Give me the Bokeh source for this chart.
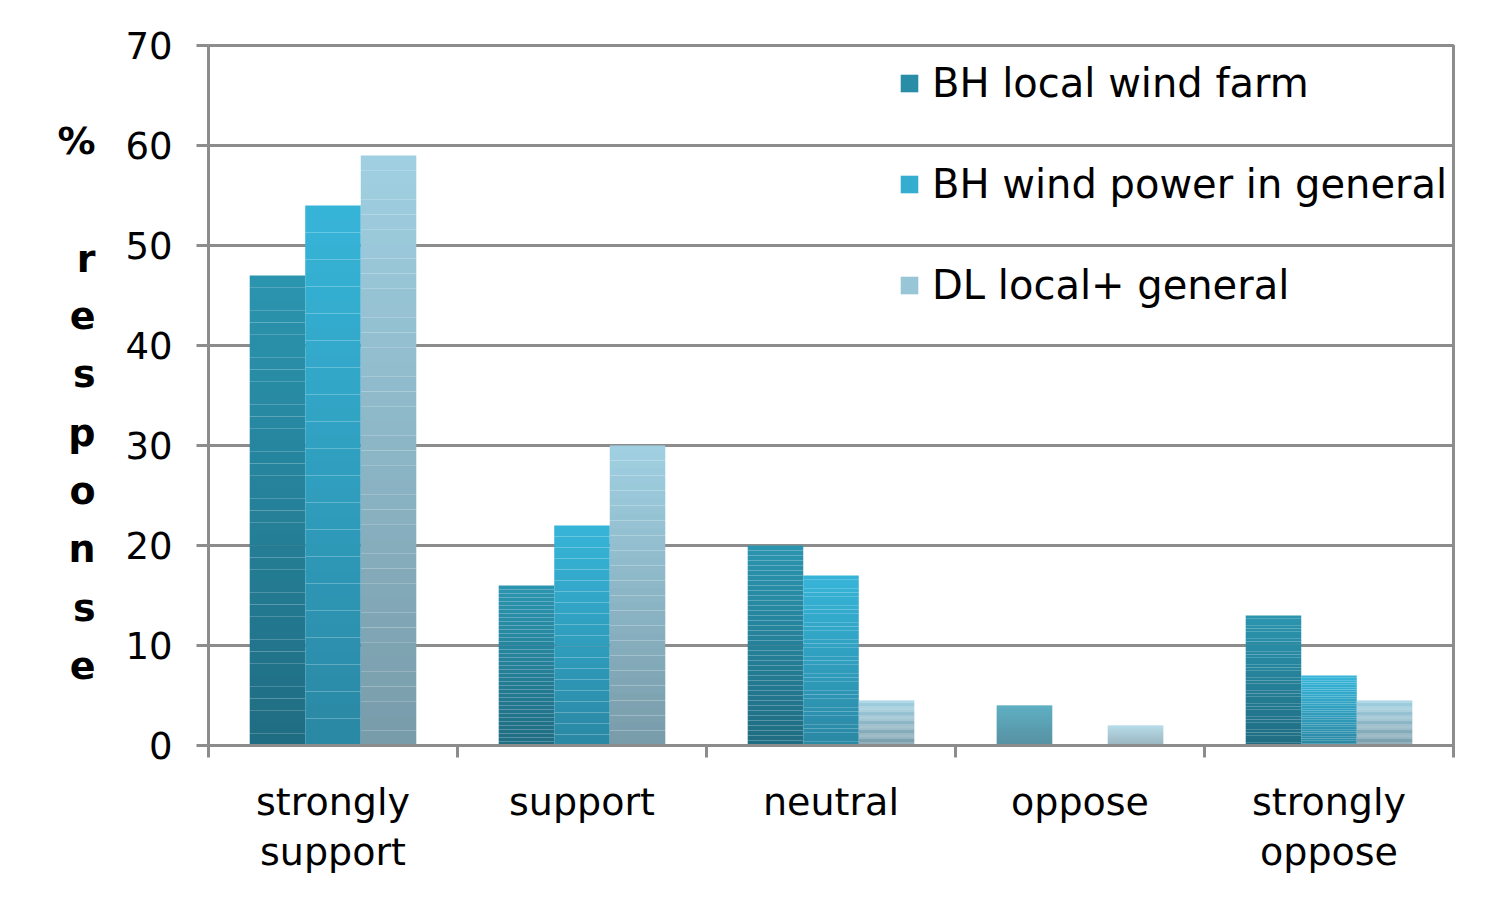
import numpy as np
from bokeh.plotting import figure
from bokeh.models import FixedTicker, LinearAxis, Range1d, Legend, LegendItem
from bokeh.embed import file_html
from bokeh.resources import INLINE

# ---- data ----
categories = ["strongly\nsupport", "support", "neutral", "oppose", "strongly\noppose"]
series_names = ["BH local wind farm", "BH wind power in general", "DL local+ general"]
bh_local = [47, 16, 20, 4, 13]
bh_general = [54, 22, 17, 0, 7]
dl_local_general = [59, 30, 4.5, 2, 4.5]
y_ticks = [0, 10, 20, 30, 40, 50, 60, 70]
y_title = "% response"

series_values = [bh_local, bh_general, dl_local_general]
top_colors = ["#2B94AF", "#36B5D9", "#A0D0E2"]
bottom_colors = ["#1F6D82", "#2A88A4", "#789BA9"]

FONT = "DejaVu Sans"
GRAY = "#8C8C8C"

p = figure(width=1484, height=884, output_backend="svg", toolbar_location=None,
           x_range=Range1d(0, len(categories)), y_range=Range1d(0, 70),
           min_border_left=208, min_border_right=31, min_border_top=45, min_border_bottom=139)
p.background_fill_color = "white"
p.border_fill_color = "white"
p.outline_line_color = GRAY
p.outline_line_width = 3


def hex2rgb(h):
    h = h.lstrip("#")
    return np.array([int(h[i:i + 2], 16) for i in (0, 2, 4)], dtype=float)


def rgb2hex(c):
    return "#%02x%02x%02x" % tuple(int(round(v)) for v in c)


N = 40
bar_w = 0.223
offsets = [-bar_w, 0.0, bar_w]
renderers = []
for s, vals in enumerate(series_values):
    cb, ct = hex2rgb(bottom_colors[s]), hex2rgb(top_colors[s])
    xs, bots, tops, cols = [], [], [], []
    for i, v in enumerate(vals):
        for k in range(N):
            t = (k + 0.5) / N
            xs.append(i + 0.5 + offsets[s])
            bots.append(v * k / N)
            tops.append(v * (k + 1) / N)
            cols.append(rgb2hex(cb + (ct - cb) * t))
    r = p.vbar(x=xs, bottom=bots, top=tops, width=bar_w, fill_color=cols, line_color=None)
    renderers.append(r)

items = [LegendItem(label=name, renderers=[renderers[s]], index=int(N * 0.8))
         for s, name in enumerate(series_names)]
legend = Legend(items=items, location=(690, 437), orientation="vertical",
                label_text_font=FONT, label_text_font_size="40px", label_text_color="black",
                glyph_width=22, glyph_height=22, label_standoff=12, spacing=55, label_height=40,
                padding=0, margin=0, border_line_color=None, background_fill_alpha=0)
p.add_layout(legend, "center")

# axes
p.yaxis.ticker = FixedTicker(ticks=y_ticks)
p.yaxis.axis_line_color = GRAY
p.yaxis.axis_line_width = 3
p.yaxis.major_tick_line_color = GRAY
p.yaxis.major_tick_line_width = 3
p.yaxis.major_tick_out = 12
p.yaxis.major_tick_in = 0
p.yaxis.minor_tick_line_color = None
p.yaxis.major_label_text_font = FONT
p.yaxis.major_label_text_font_size = "37px"
p.yaxis.major_label_text_color = "black"
p.yaxis.major_label_standoff = 24

p.xaxis.ticker = FixedTicker(ticks=[i + 0.5 for i in range(len(categories))],
                             minor_ticks=list(range(len(categories) + 1)))
p.xaxis.major_label_overrides = {i + 0.5: c for i, c in enumerate(categories)}
p.xaxis.axis_line_color = GRAY
p.xaxis.axis_line_width = 3
p.xaxis.major_tick_line_color = None
p.xaxis.major_tick_out = 0
p.xaxis.major_tick_in = 0
p.xaxis.minor_tick_line_color = GRAY
p.xaxis.minor_tick_line_width = 3
p.xaxis.minor_tick_out = 12
p.xaxis.minor_tick_in = 0
p.xaxis.major_label_text_font = FONT
p.xaxis.major_label_text_font_size = "38px"
p.xaxis.major_label_text_color = "black"
p.xaxis.major_label_text_line_height = 1.15
p.xaxis.major_label_standoff = 22

p.xgrid.grid_line_color = None
p.ygrid.ticker = FixedTicker(ticks=y_ticks)
p.ygrid.grid_line_color = GRAY
p.ygrid.grid_line_width = 3

# vertical stacked y-axis title, drawn as a second (outer) left axis of single letters
letter_pos = [60.5, None, 48.7, 43.0, 37.2, 31.3, 25.5, 19.7, 13.8, 8.0]
ticks, overrides = [], {}
for ch, pos in zip(y_title, letter_pos):
    if ch.strip() and pos is not None:
        ticks.append(pos)
        overrides[pos] = ch
title_axis = LinearAxis(ticker=FixedTicker(ticks=ticks), major_label_overrides=overrides,
                        axis_line_color=None, major_tick_line_color=None, minor_tick_line_color=None,
                        major_tick_out=0, major_tick_in=0, major_label_standoff=27,
                        major_label_text_font=FONT, major_label_text_font_style="bold",
                        major_label_text_font_size="38px", major_label_text_color="black")
p.add_layout(title_axis, "left")

open("out.html", "w").write(file_html(p, INLINE))
